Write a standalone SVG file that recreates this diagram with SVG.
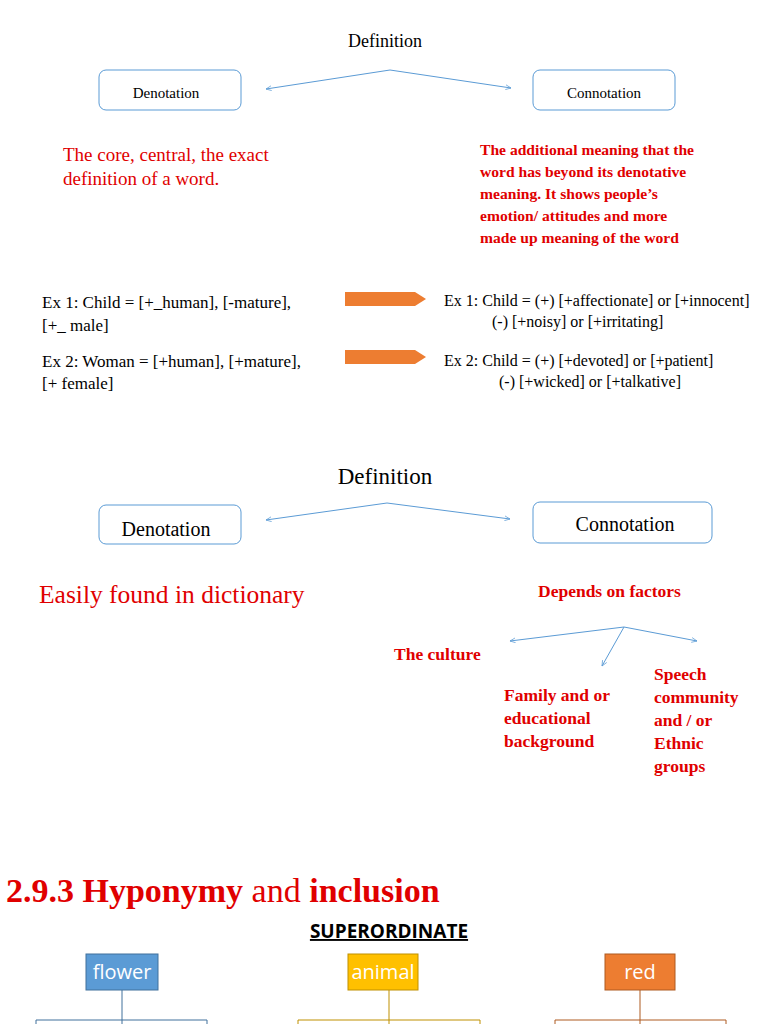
<svg xmlns="http://www.w3.org/2000/svg" width="768" height="1024" viewBox="0 0 768 1024">
<defs>
<marker id="ah" viewBox="0 0 10 10" refX="9" refY="5" markerWidth="6" markerHeight="6" orient="auto"><path d="M0,1 L9,5 L0,9" fill="none" stroke="#5b9bd5" stroke-width="1.2"/></marker>
</defs>
<style>
text{font-family:"Liberation Serif",serif}
.s{font-size:15px;fill:#000}
.ex{font-size:17px;fill:#000}
.ex2{font-size:16px;fill:#000}
.r{fill:#e00000;font-size:19px}
.rb{fill:#e00000;font-size:15.6px;font-weight:bold}
.rm{fill:#e00000;font-size:17.5px;font-weight:bold}
.box{fill:#fff;stroke:#5b9bd5;stroke-width:1}
.ln{stroke:#5b9bd5;stroke-width:1;fill:none;marker-end:url(#ah)}
.sans{font-family:"Open Sans","Liberation Sans",sans-serif;fill:#fff;font-size:20px}
</style>
<rect width="768" height="1024" fill="#fff"/>
<g id="connectors">
<path class="ln" d="M390,70 L266,89"/><path class="ln" d="M390,70 L511,88"/>
<path class="ln" d="M387,503 L266,520"/><path class="ln" d="M387,503 L510,519"/>
<path class="ln" d="M624,627 L510,641"/><path class="ln" d="M624,627 L697,641"/><path class="ln" d="M624,627 L602,666"/>
<path d="M345,292 H415 L426,299 L415,306 H345 Z" fill="#ed7d31"/>
<path d="M345,350 H415 L426,357 L415,364 H345 Z" fill="#ed7d31"/>
<path d="M122,990 V1024 M36,1024 V1020 H207 V1024" stroke="#41719c" fill="none"/>
<path d="M389,990 V1024 M298,1024 V1020 H480 V1024" stroke="#bf9000" fill="none"/>
<path d="M640,990 V1024 M555,1024 V1020 H726 V1024" stroke="#ae5a21" fill="none"/>
</g>
<g id="top">
<text x="385" y="47" text-anchor="middle" style="font-size:18px">Definition</text>
<rect class="box" x="99" y="70" width="142" height="40" rx="7"/><text x="166" y="98" class="s" text-anchor="middle">Denotation</text>
<rect class="box" x="533" y="70" width="142" height="40" rx="7"/><text x="604" y="98" class="s" text-anchor="middle">Connotation</text>
<text class="r" x="63" y="161">The core, central, the exact</text>
<text class="r" x="63" y="185">definition of a word.</text>
<text class="rb" x="480" y="155">The additional meaning that the</text>
<text class="rb" x="480" y="177">word has beyond its denotative</text>
<text class="rb" x="480" y="199">meaning. It shows people’s</text>
<text class="rb" x="480" y="221">emotion/ attitudes and more</text>
<text class="rb" x="480" y="243">made up meaning of the word</text>
</g>
<g id="examples">
<text class="ex" x="42" y="308">Ex 1: Child = [+_human], [-mature],</text>
<text class="ex" x="42" y="331">[+_ male]</text>
<text class="ex" x="42" y="367">Ex 2: Woman = [+human], [+mature],</text>
<text class="ex" x="42" y="389">[+ female]</text>
<text class="ex2" x="444" y="306">Ex 1: Child = (+) [+affectionate] or [+innocent]</text>
<text class="ex2" x="492" y="327">(-) [+noisy] or [+irritating]</text>
<text class="ex2" x="444" y="366">Ex 2: Child = (+) [+devoted] or [+patient]</text>
<text class="ex2" x="499" y="387">(-) [+wicked] or [+talkative]</text>
</g>
<g id="mid">
<text x="385" y="484" text-anchor="middle" style="font-size:23px">Definition</text>
<rect class="box" x="99" y="505" width="142" height="39" rx="7"/><text x="166" y="536" text-anchor="middle" style="font-size:20px">Denotation</text>
<rect class="box" x="533" y="502" width="179" height="41" rx="7"/><text x="625" y="531" text-anchor="middle" style="font-size:20px">Connotation</text>
<text x="39" y="603" style="fill:#e00000;font-size:25.5px">Easily found in dictionary</text>
<text class="rm" x="538" y="597">Depends on factors</text>
<text class="rm" x="394" y="660">The culture</text>
<text class="rm" x="504" y="701">Family and or</text>
<text class="rm" x="504" y="724">educational</text>
<text class="rm" x="504" y="747">background</text>
<text class="rm" x="654" y="680">Speech</text>
<text class="rm" x="654" y="703">community</text>
<text class="rm" x="654" y="726">and / or</text>
<text class="rm" x="654" y="749">Ethnic</text>
<text class="rm" x="654" y="772">groups</text>
</g>
<g id="hyponymy">
<text x="6" y="902" style="fill:#e00000;font-size:34px;font-weight:bold">2.9.3 Hyponymy <tspan style="font-weight:normal">and</tspan> inclusion</text>
<text x="389" y="938" text-anchor="middle" style="font-family:'Open Sans','Liberation Sans',sans-serif;font-weight:bold;font-size:19px;text-decoration:underline">SUPERORDINATE</text>
<rect x="86" y="954" width="72" height="36" fill="#5b9bd5" stroke="#41719c"/><text class="sans" x="122" y="979" text-anchor="middle">flower</text>
<rect x="348" y="954" width="70" height="36" fill="#ffc000" stroke="#bf9000"/><text class="sans" x="383" y="979" text-anchor="middle">animal</text>
<rect x="605" y="954" width="70" height="36" fill="#ed7d31" stroke="#ae5a21"/><text class="sans" x="640" y="979" text-anchor="middle">red</text>
</g>
</svg>
